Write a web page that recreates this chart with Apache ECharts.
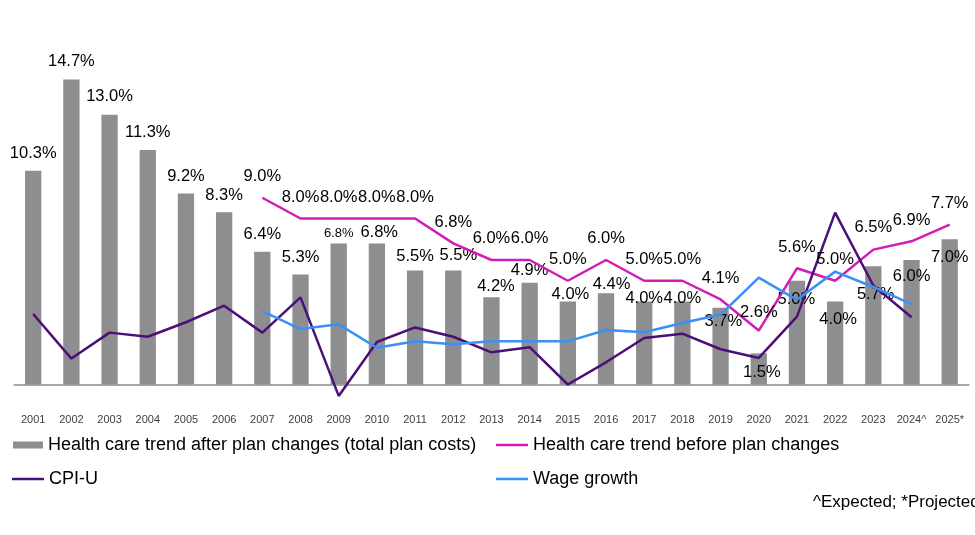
<!DOCTYPE html>
<html><head><meta charset="utf-8">
<script src="https://cdn.jsdelivr.net/npm/echarts@6/dist/echarts.min.js"></script>
<style>html,body{margin:0;padding:0;background:#fff}#c{width:975px;height:535px}</style>
</head><body><div id="c"></div>
<script>
const years = ['2001','2002','2003','2004','2005','2006','2007','2008','2009','2010','2011','2012','2013','2014','2015','2016','2017','2018','2019','2020','2021','2022','2023','2024^','2025*'];
const afterPlanChanges = [10.3,14.7,13.0,11.3,9.2,8.3,6.4,5.3,6.8,6.8,5.5,5.5,4.2,4.9,4.0,4.4,4.0,4.0,3.7,1.5,5.0,4.0,5.7,6.0,7.0];
const beforePlanChanges = [null,null,null,null,null,null,9.0,8.0,8.0,8.0,8.0,6.8,6.0,6.0,5.0,6.0,5.0,5.0,4.1,2.6,5.6,5.0,6.5,6.9,7.7];
const cpiU = [3.4,1.25,2.5,2.3,3.0,3.8,2.5,4.2,-0.55,2.05,2.75,2.3,1.55,1.8,0.0,1.07,2.24,2.45,1.7,1.28,3.27,8.28,4.77,3.24,null];
const wageGrowth = [null,null,null,null,null,null,3.54,2.67,2.9,1.77,2.08,1.94,2.08,2.08,2.08,2.63,2.52,2.96,3.37,5.15,4.08,5.44,4.7,3.87,null];
const seriesNames = ['Health care trend after plan changes (total plan costs)','Health care trend before plan changes','CPI-U','Wage growth'];
const footnote = '^Expected; *Projected';

// label placement (style only): [dx, dy of label centre relative to the mark]
const barLabelShift = [[0,-17.5],[0,-17.8],[0,-18],[0,-17.3],[0,-17],[0,-16.6],[0,-16.7],[0,-17.2],[0,-10],[2.3,-10.7],[0,-13.7],[5,-14.4],[4.5,-10.7],[0,-12],[2.6,-7.2],[5.6,-8.2],[0,-3.2],[0,-3.2],[2.7,14],[3,19.3],[-0.7,19.25],[3,18.5],[2.4,28.8],[0,16.7],[0,18]];
const lineLabelShift = {19:[0,-17.8],22:[0,-22]};

const FONT = 'Liberation Sans, Arial, sans-serif';
const LFS = 16.5;

const barData = afterPlanChanges.map((v,i)=>{
  const fs = i===8 ? 13 : LFS;
  const s = barLabelShift[i];
  return {value:v, label:{fontSize:fs, offset:[s[0], s[1]+fs/2]}};
});
const magData = beforePlanChanges.map((v,i)=>{
  if (v===null) return '-';
  const s = lineLabelShift[i] || [0,-21];
  return {value:v, label:{offset:[s[0], s[1]+LFS/2]}};
});

const chart = echarts.init(document.getElementById('c'));
const legendBase = {padding:0, itemGap:0, selectedMode:false, textStyle:{fontSize:18, color:'#000', fontFamily:FONT}};
chart.setOption({
  animation:false,
  grid:{left:14.1, right:6.2, top:52.5, bottom:129.75},
  xAxis:{type:'category', data:years, boundaryGap:true,
    axisLine:{onZero:true, lineStyle:{color:'#8a8a8a', width:1.5}},
    axisTick:{show:false},
    axisLabel:{fontSize:11, color:'#404040', fontFamily:FONT, margin:9, interval:0}},
  yAxis:{type:'value', min:-1, max:16, show:false, splitLine:{show:false}},
  legend:[
    Object.assign({}, legendBase, {data:[{name:seriesNames[0], icon:'rect'}], left:13, top:436, itemWidth:30, itemHeight:7}),
    Object.assign({}, legendBase, {data:[{name:seriesNames[1], icon:'rect'}], left:496, top:436, itemWidth:32, itemHeight:2.5}),
    Object.assign({}, legendBase, {data:[{name:seriesNames[2], icon:'rect'}], left:12, top:470, itemWidth:32, itemHeight:2.5}),
    Object.assign({}, legendBase, {data:[{name:seriesNames[3], icon:'rect'}], left:496, top:470, itemWidth:32, itemHeight:2.5})
  ],
  graphic:[{type:'text', left:813, top:494, style:{text:footnote, fontSize:17, fill:'#000', fontFamily:FONT}}],
  series:[
    {name:seriesNames[0], type:'bar', data:barData, barWidth:16.3,
      itemStyle:{color:'#8e8e91'},
      label:{show:true, position:'top', distance:0, color:'#000', fontFamily:FONT, fontSize:LFS,
        formatter:p=>p.value.toFixed(1)+'%'}},
    {name:seriesNames[1], type:'line', data:magData, symbol:'circle', symbolSize:0.01, showSymbol:true,
      lineStyle:{color:'#d41bb8', width:2.5}, itemStyle:{color:'#d41bb8'},
      label:{show:true, position:'top', distance:0, color:'#000', fontFamily:FONT, fontSize:LFS,
        formatter:p=>Number(p.value).toFixed(1)+'%'}},
    {name:seriesNames[2], type:'line', data:cpiU, symbol:'none',
      lineStyle:{color:'#4b1078', width:2.5}, itemStyle:{color:'#4b1078'}},
    {name:seriesNames[3], type:'line', data:wageGrowth, symbol:'none',
      lineStyle:{color:'#3991f6', width:2.5}, itemStyle:{color:'#3991f6'}}
  ]
});
</script></body></html>
